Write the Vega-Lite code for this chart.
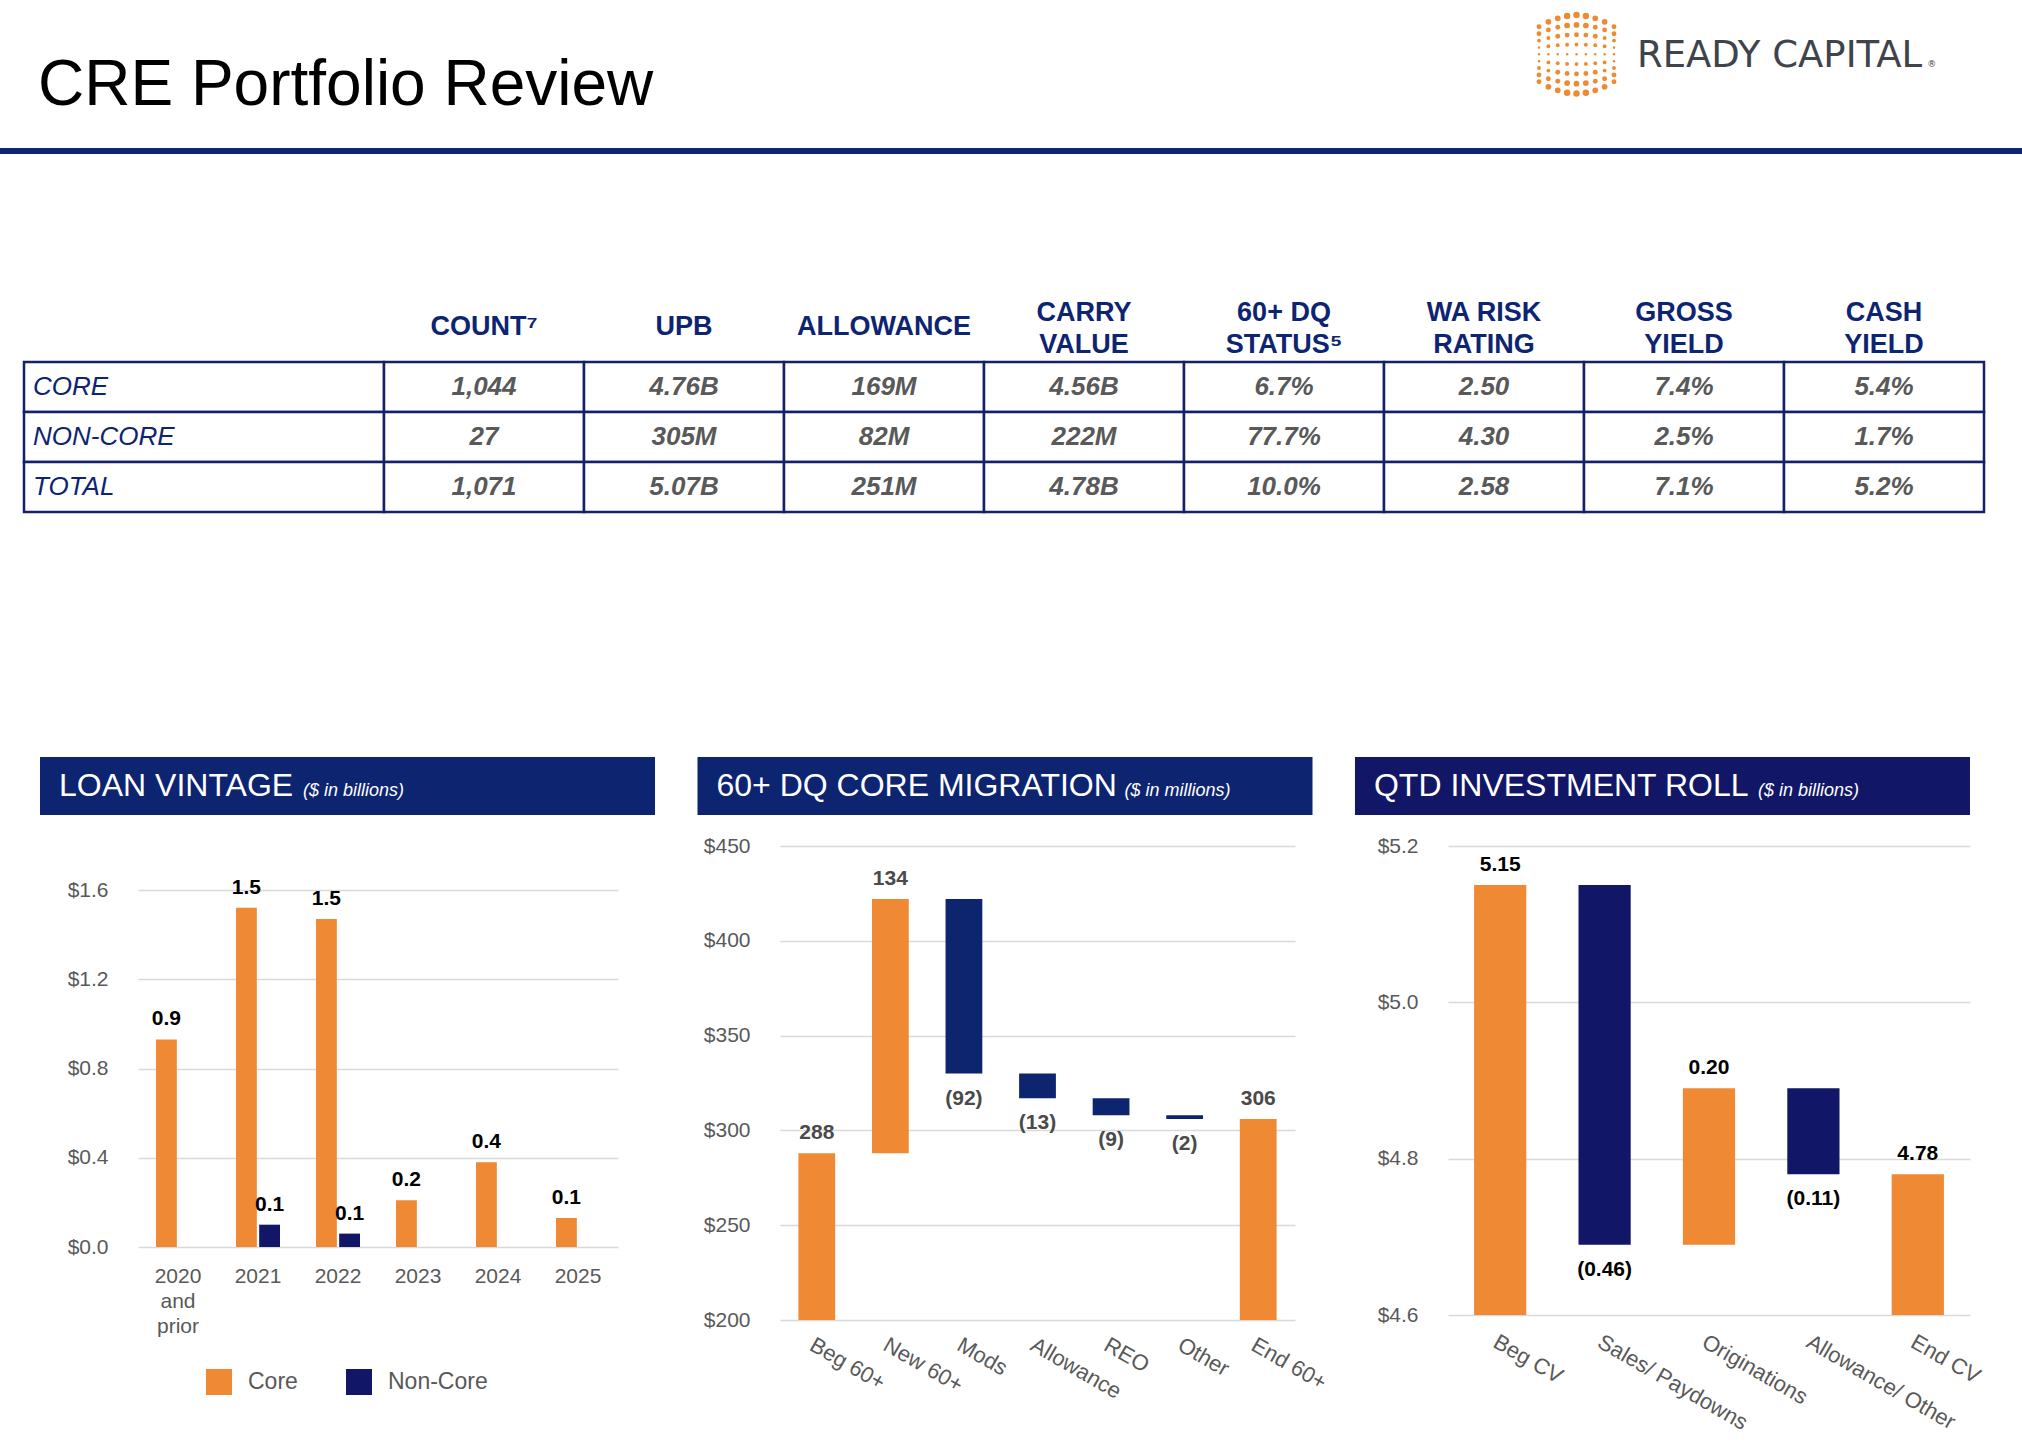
{
  "$schema": "https://vega.github.io/schema/vega-lite/v6.json",
  "width": 2022,
  "height": 1450,
  "autosize": {"type": "none"},
  "padding": 0,
  "background": "#ffffff",
  "config": {
    "font": "Liberation Sans",
    "view": {"stroke": null},
    "axis": {"labelFont": "Liberation Sans", "titleFont": "Liberation Sans"},
    "legend": {"labelFont": "Liberation Sans"}
  },
  "datasets": {
    "logo": [
      {"c":0,"y":21.8,"w":3},{"c":0,"y":28.7,"w":3},{"c":0,"y":35.6,"w":2},{"c":0,"y":42.4,"w":1},{"c":0,"y":49.3,"w":1},{"c":0,"y":56.2,"w":1},{"c":0,"y":63.0,"w":2},{"c":0,"y":69.9,"w":3},{"c":0,"y":76.8,"w":3},
      {"c":1,"y":16.8,"w":4},{"c":1,"y":24.9,"w":3},{"c":1,"y":33.0,"w":2},{"c":1,"y":41.2,"w":2},{"c":1,"y":49.3,"w":1},{"c":1,"y":57.4,"w":2},{"c":1,"y":65.6,"w":2},{"c":1,"y":73.7,"w":3},{"c":1,"y":81.8,"w":4},
      {"c":2,"y":13.3,"w":4},{"c":2,"y":22.3,"w":3},{"c":2,"y":31.3,"w":3},{"c":2,"y":40.3,"w":2},{"c":2,"y":49.3,"w":1},{"c":2,"y":58.3,"w":2},{"c":2,"y":67.3,"w":3},{"c":2,"y":76.3,"w":3},{"c":2,"y":85.3,"w":4},
      {"c":3,"y":10.9,"w":5},{"c":3,"y":20.5,"w":4},{"c":3,"y":30.1,"w":3},{"c":3,"y":39.7,"w":2},{"c":3,"y":49.3,"w":1},{"c":3,"y":58.9,"w":2},{"c":3,"y":68.5,"w":3},{"c":3,"y":78.1,"w":4},{"c":3,"y":87.7,"w":5},
      {"c":4,"y":10.1,"w":5},{"c":4,"y":19.9,"w":4},{"c":4,"y":29.7,"w":3},{"c":4,"y":39.5,"w":2},{"c":4,"y":49.3,"w":1},{"c":4,"y":59.1,"w":2},{"c":4,"y":68.9,"w":3},{"c":4,"y":78.7,"w":4},{"c":4,"y":88.5,"w":5},
      {"c":5,"y":10.9,"w":5},{"c":5,"y":20.5,"w":4},{"c":5,"y":30.1,"w":3},{"c":5,"y":39.7,"w":2},{"c":5,"y":49.3,"w":1},{"c":5,"y":58.9,"w":2},{"c":5,"y":68.5,"w":3},{"c":5,"y":78.1,"w":4},{"c":5,"y":87.7,"w":5},
      {"c":6,"y":13.3,"w":4},{"c":6,"y":22.3,"w":3},{"c":6,"y":31.3,"w":3},{"c":6,"y":40.3,"w":2},{"c":6,"y":49.3,"w":1},{"c":6,"y":58.3,"w":2},{"c":6,"y":67.3,"w":3},{"c":6,"y":76.3,"w":3},{"c":6,"y":85.3,"w":4},
      {"c":7,"y":16.8,"w":4},{"c":7,"y":24.9,"w":3},{"c":7,"y":33.0,"w":2},{"c":7,"y":41.2,"w":2},{"c":7,"y":49.3,"w":1},{"c":7,"y":57.4,"w":2},{"c":7,"y":65.6,"w":2},{"c":7,"y":73.7,"w":3},{"c":7,"y":81.8,"w":4},
      {"c":8,"y":21.8,"w":3},{"c":8,"y":28.7,"w":3},{"c":8,"y":35.6,"w":2},{"c":8,"y":42.4,"w":1},{"c":8,"y":49.3,"w":1},{"c":8,"y":56.2,"w":1},{"c":8,"y":63.0,"w":2},{"c":8,"y":69.9,"w":3},{"c":8,"y":76.8,"w":3}
    ],
    "rows": [{"row": "CORE"}, {"row": "NON-CORE"}, {"row": "TOTAL"}],
    "table": [
      {"row":"CORE","col":"COUNT⁷","val":"1,044"},
      {"row":"CORE","col":"UPB","val":"4.76B"},
      {"row":"CORE","col":"ALLOWANCE","val":"169M"},
      {"row":"CORE","col":"CARRY VALUE","val":"4.56B"},
      {"row":"CORE","col":"60+ DQ STATUS⁵","val":"6.7%"},
      {"row":"CORE","col":"WA RISK RATING","val":"2.50"},
      {"row":"CORE","col":"GROSS YIELD","val":"7.4%"},
      {"row":"CORE","col":"CASH YIELD","val":"5.4%"},
      {"row":"NON-CORE","col":"COUNT⁷","val":"27"},
      {"row":"NON-CORE","col":"UPB","val":"305M"},
      {"row":"NON-CORE","col":"ALLOWANCE","val":"82M"},
      {"row":"NON-CORE","col":"CARRY VALUE","val":"222M"},
      {"row":"NON-CORE","col":"60+ DQ STATUS⁵","val":"77.7%"},
      {"row":"NON-CORE","col":"WA RISK RATING","val":"4.30"},
      {"row":"NON-CORE","col":"GROSS YIELD","val":"2.5%"},
      {"row":"NON-CORE","col":"CASH YIELD","val":"1.7%"},
      {"row":"TOTAL","col":"COUNT⁷","val":"1,071"},
      {"row":"TOTAL","col":"UPB","val":"5.07B"},
      {"row":"TOTAL","col":"ALLOWANCE","val":"251M"},
      {"row":"TOTAL","col":"CARRY VALUE","val":"4.78B"},
      {"row":"TOTAL","col":"60+ DQ STATUS⁵","val":"10.0%"},
      {"row":"TOTAL","col":"WA RISK RATING","val":"2.58"},
      {"row":"TOTAL","col":"GROSS YIELD","val":"7.1%"},
      {"row":"TOTAL","col":"CASH YIELD","val":"5.2%"}
    ],
    "panels": [
      {"panel": "LOAN VINTAGE", "unit": "($ in billions)"},
      {"panel": "60+ DQ CORE MIGRATION", "unit": "($ in millions)"},
      {"panel": "QTD INVESTMENT ROLL", "unit": "($ in billions)"}
    ],
    "vintage": [
      {"vintage":"2020 and prior","type":"Core","amount":0.93},
      {"vintage":"2021","type":"Core","amount":1.52},
      {"vintage":"2022","type":"Core","amount":1.47},
      {"vintage":"2023","type":"Core","amount":0.21},
      {"vintage":"2024","type":"Core","amount":0.38},
      {"vintage":"2025","type":"Core","amount":0.13},
      {"vintage":"2021","type":"Non-Core","amount":0.10},
      {"vintage":"2022","type":"Non-Core","amount":0.06}
    ],
    "migration": [
      {"step":"Beg 60+","start":0,"end":288,"amount":288,"dir":"up"},
      {"step":"New 60+","start":288,"end":422,"amount":134,"dir":"up"},
      {"step":"Mods","start":422,"end":330,"amount":-92,"dir":"down"},
      {"step":"Allowance","start":330,"end":317,"amount":-13,"dir":"down"},
      {"step":"REO","start":317,"end":308,"amount":-9,"dir":"down"},
      {"step":"Other","start":308,"end":306,"amount":-2,"dir":"down"},
      {"step":"End 60+","start":0,"end":306,"amount":306,"dir":"up"}
    ],
    "roll": [
      {"step":"Beg CV","start":0,"end":5.15,"amount":5.15,"dir":"up"},
      {"step":"Sales/ Paydowns","start":5.15,"end":4.69,"amount":-0.46,"dir":"down"},
      {"step":"Originations","start":4.69,"end":4.89,"amount":0.20,"dir":"up"},
      {"step":"Allowance/ Other","start":4.89,"end":4.78,"amount":-0.11,"dir":"down"},
      {"step":"End CV","start":0,"end":4.78,"amount":4.78,"dir":"up"}
    ]
  },
  "resolve": {
    "scale": {"x": "independent", "y": "independent", "color": "independent", "size": "independent", "xOffset": "independent"},
    "axis": {"x": "independent", "y": "independent"},
    "legend": {"color": "independent", "size": "independent"}
  },
  "layer": [
    {
      "data": {"values": [{"t": "CRE Portfolio Review"}]},
      "mark": {"type": "text", "align": "left", "baseline": "alphabetic", "fontSize": 64, "color": "#000000"},
      "encoding": {"text": {"field": "t"}, "x": {"value": 38}, "y": {"value": 105}}
    },
    {
      "layer": [
        {
          "data": {"name": "logo"},
          "mark": {"type": "circle", "color": "#ef8a33", "opacity": 1},
          "encoding": {
            "x": {"field": "c", "type": "quantitative", "scale": {"domain": [0, 8], "range": [1539, 1614]}, "axis": null},
            "y": {"field": "y", "type": "quantitative", "scale": {"domain": [0, 100], "range": [5, 105]}, "axis": null},
            "size": {"field": "w", "type": "quantitative", "scale": {"domain": [1, 5], "range": [6, 42]}, "legend": null}
          }
        },
        {
          "data": {"values": [{"brand": "READY CAPITAL"}]},
          "mark": {"type": "text", "align": "left", "baseline": "alphabetic", "font": "DejaVu Sans", "fontSize": 37, "color": "#3f444b"},
          "encoding": {
            "text": {"field": "brand"},
            "x": {"datum": 10.45, "type": "quantitative"},
            "y": {"datum": 61.7, "type": "quantitative"}
          }
        },
        {
          "data": {"values": [{"sign": "®"}]},
          "mark": {"type": "text", "align": "left", "baseline": "alphabetic", "font": "DejaVu Sans", "fontSize": 9, "color": "#3f444b"},
          "encoding": {
            "text": {"field": "sign"},
            "x": {"datum": 41.4, "type": "quantitative"},
            "y": {"datum": 61.7, "type": "quantitative"}
          }
        }
      ]
    },
    {
      "data": {"values": [{}]},
      "mark": {"type": "rule", "color": "#0d2471", "strokeWidth": 6},
      "encoding": {"y": {"value": 151}}
    },
    {
      "data": {"name": "rows"},
      "encoding": {
        "y": {"field": "row", "type": "nominal", "sort": null, "scale": {"range": [362, 512], "paddingInner": 0, "paddingOuter": 0}, "axis": null}
      },
      "layer": [
        {
          "mark": {"type": "rect", "fill": "#ffffff", "stroke": "#14206b", "strokeWidth": 2.5},
          "encoding": {
            "x": {"datum": "row label", "type": "nominal", "scale": {"range": [24, 384], "paddingInner": 0, "paddingOuter": 0}, "axis": null}
          }
        },
        {
          "mark": {"type": "text", "align": "left", "baseline": "middle", "dx": 9, "fontSize": 26, "fontStyle": "italic", "color": "#0d2471"},
          "encoding": {
            "x": {"datum": "row label", "type": "nominal", "bandPosition": 0},
            "text": {"field": "row"}
          }
        }
      ]
    },
    {
      "data": {"name": "table"},
      "encoding": {
        "x": {
          "field": "col", "type": "nominal", "sort": null,
          "scale": {"range": [384, 1984], "paddingInner": 0, "paddingOuter": 0},
          "axis": {
            "orient": "top", "offset": -362, "title": null, "labelAngle": 0, "ticks": false, "domain": false, "grid": false,
            "labelFontSize": 27, "labelFontWeight": "bold", "labelColor": "#0d2471",
            "labelPadding": 36, "labelLineHeight": 32, "labelLimit": 0,
            "labelBaseline": {"condition": {"test": "indexof(['COUNT⁷', 'UPB', 'ALLOWANCE'], datum.value) >= 0", "value": "middle"}, "value": "bottom"},
            "labelExpr": "indexof(['COUNT⁷', 'UPB', 'ALLOWANCE'], datum.value) >= 0 ? datum.value : [slice(datum.value, 0, lastindexof(datum.value, ' ')), slice(datum.value, lastindexof(datum.value, ' ') + 1)]"
          }
        },
        "y": {"field": "row", "type": "nominal", "sort": null, "scale": {"range": [362, 512], "paddingInner": 0, "paddingOuter": 0}, "axis": null}
      },
      "layer": [
        {"mark": {"type": "rect", "fill": "#ffffff", "stroke": "#14206b", "strokeWidth": 2.5}},
        {
          "mark": {"type": "text", "baseline": "middle", "fontSize": 26, "fontWeight": "bold", "fontStyle": "italic", "color": "#595959"},
          "encoding": {"text": {"field": "val"}}
        }
      ]
    },
    {
      "data": {"name": "panels"},
      "encoding": {
        "x": {"field": "panel", "type": "nominal", "sort": null, "scale": {"range": [40, 1970], "paddingInner": 0.0646, "paddingOuter": 0}, "axis": null},
        "y": {"datum": "box", "type": "nominal", "scale": {"range": [757, 815], "paddingInner": 0, "paddingOuter": 0}, "axis": null}
      },
      "layer": [
        {
          "mark": {"type": "rect"},
          "encoding": {
            "color": {"field": "panel", "type": "nominal", "scale": {"domain": ["LOAN VINTAGE", "60+ DQ CORE MIGRATION", "QTD INVESTMENT ROLL"], "range": ["#0d2471", "#0d2471", "#121666"]}, "legend": null}
          }
        },
        {
          "mark": {"type": "text", "align": "left", "baseline": "alphabetic", "dx": 19, "dy": 10, "fontSize": 32, "color": "#ffffff"},
          "encoding": {"x": {"field": "panel", "type": "nominal", "bandPosition": 0}, "text": {"field": "panel"}}
        },
        {
          "transform": [{"filter": "datum.panel == 'LOAN VINTAGE'"}],
          "mark": {"type": "text", "align": "left", "baseline": "alphabetic", "dx": 263, "dy": 10, "fontSize": 18, "fontStyle": "italic", "color": "#ffffff"},
          "encoding": {"x": {"field": "panel", "type": "nominal", "bandPosition": 0}, "text": {"field": "unit"}}
        },
        {
          "transform": [{"filter": "datum.panel == '60+ DQ CORE MIGRATION'"}],
          "mark": {"type": "text", "align": "left", "baseline": "alphabetic", "dx": 427, "dy": 10, "fontSize": 18, "fontStyle": "italic", "color": "#ffffff"},
          "encoding": {"x": {"field": "panel", "type": "nominal", "bandPosition": 0}, "text": {"field": "unit"}}
        },
        {
          "transform": [{"filter": "datum.panel == 'QTD INVESTMENT ROLL'"}],
          "mark": {"type": "text", "align": "left", "baseline": "alphabetic", "dx": 403, "dy": 10, "fontSize": 18, "fontStyle": "italic", "color": "#ffffff"},
          "encoding": {"x": {"field": "panel", "type": "nominal", "bandPosition": 0}, "text": {"field": "unit"}}
        }
      ]
    },
    {
      "data": {"name": "vintage"},
      "encoding": {
        "x": {
          "field": "vintage", "type": "nominal", "sort": null,
          "scale": {"range": [138, 618], "paddingInner": 0.45, "paddingOuter": 0.225},
          "axis": {
            "orient": "bottom", "offset": -203, "title": null, "labelAngle": 0, "ticks": false, "domain": false, "grid": false,
            "labelFontSize": 21, "labelColor": "#595959", "labelPadding": 18,
            "labelBaseline": "top", "labelLineHeight": 25,
            "labelExpr": "datum.value == '2020 and prior' ? ['2020', 'and', 'prior'] : datum.label"
          }
        },
        "xOffset": {"field": "type", "type": "nominal", "sort": ["Core", "Non-Core"], "scale": {"paddingInner": 0.1, "paddingOuter": 0}},
        "y": {
          "field": "amount", "type": "quantitative",
          "scale": {"domain": [0, 1.6], "range": [1247, 890], "nice": false},
          "axis": {
            "orient": "left", "offset": -138, "title": null, "values": [0, 0.4, 0.8, 1.2, 1.6], "format": "$.1f",
            "ticks": false, "domain": false, "labelFontSize": 21, "labelColor": "#595959",
            "labelPadding": 30, "grid": true, "gridColor": "#d9d9d9", "gridWidth": 1.5
          }
        }
      },
      "layer": [
        {
          "mark": {"type": "bar"},
          "encoding": {
            "color": {
              "field": "type", "type": "nominal",
              "scale": {"domain": ["Core", "Non-Core"], "range": ["#ef8933", "#121666"]},
              "legend": {
                "title": null, "orient": "none", "legendX": 206, "legendY": 1369,
                "direction": "horizontal", "symbolType": "square", "symbolSize": 676,
                "symbolStrokeWidth": 0, "labelFontSize": 23, "labelColor": "#595959",
                "labelOffset": 16, "columnPadding": 48
              }
            }
          }
        },
        {
          "mark": {"type": "text", "baseline": "middle", "dy": -20, "fontSize": 21, "fontWeight": "bold", "color": "#000000"},
          "encoding": {"text": {"field": "amount", "type": "quantitative", "format": ".1f"}}
        }
      ]
    },
    {
      "data": {"name": "migration"},
      "transform": [
        {"calculate": "datum.amount < 0 ? '(' + format(-datum.amount, 'd') + ')' : format(datum.amount, 'd')", "as": "label"}
      ],
      "encoding": {
        "x": {
          "field": "step", "type": "nominal", "sort": null,
          "scale": {"range": [780, 1295], "paddingInner": 0.5, "paddingOuter": 0.25},
          "axis": {
            "orient": "bottom", "offset": -130, "title": null, "labelAngle": 30, "labelAlign": "left", "labelBaseline": "top",
            "ticks": false, "domain": false, "grid": false, "labelFontSize": 22, "labelColor": "#595959",
            "labelPadding": 14, "labelLimit": 0
          }
        },
        "y": {
          "field": "end", "type": "quantitative",
          "scale": {"domain": [200, 450], "range": [1320, 846], "nice": false, "zero": false, "clamp": true},
          "axis": {
            "orient": "left", "offset": -780, "title": null, "values": [200, 250, 300, 350, 400, 450], "format": "$d",
            "ticks": false, "domain": false, "labelFontSize": 21, "labelColor": "#595959",
            "labelPadding": 30, "grid": true, "gridColor": "#d9d9d9", "gridWidth": 1.5
          }
        }
      },
      "layer": [
        {
          "mark": {"type": "bar"},
          "encoding": {
            "y": {"field": "start", "type": "quantitative"},
            "y2": {"field": "end"},
            "color": {"field": "dir", "type": "nominal", "scale": {"domain": ["up", "down"], "range": ["#ef8933", "#0d256e"]}, "legend": null}
          }
        },
        {
          "transform": [{"filter": "datum.amount > 0"}],
          "mark": {"type": "text", "baseline": "middle", "dy": -20, "fontSize": 21, "fontWeight": "bold", "color": "#4a4a4a"},
          "encoding": {"text": {"field": "label"}}
        },
        {
          "transform": [{"filter": "datum.amount < 0"}],
          "mark": {"type": "text", "baseline": "middle", "dy": 25, "fontSize": 21, "fontWeight": "bold", "color": "#4a4a4a"},
          "encoding": {"text": {"field": "label"}}
        }
      ]
    },
    {
      "data": {"name": "roll"},
      "transform": [
        {"calculate": "datum.amount < 0 ? '(' + format(-datum.amount, '.2f') + ')' : format(datum.amount, '.2f')", "as": "label"}
      ],
      "encoding": {
        "x": {
          "field": "step", "type": "nominal", "sort": null,
          "scale": {"range": [1448, 1970], "paddingInner": 0.5, "paddingOuter": 0.25},
          "axis": {
            "orient": "bottom", "offset": -135, "title": null, "labelAngle": 30, "labelAlign": "left", "labelBaseline": "top",
            "ticks": false, "domain": false, "grid": false, "labelFontSize": 22, "labelColor": "#595959",
            "labelPadding": 16, "labelLimit": 0
          }
        },
        "y": {
          "field": "end", "type": "quantitative",
          "scale": {"domain": [4.6, 5.2], "range": [1315, 846], "nice": false, "zero": false, "clamp": true},
          "axis": {
            "orient": "left", "offset": -1448, "title": null, "values": [4.6, 4.8, 5.0, 5.2], "format": "$.1f",
            "ticks": false, "domain": false, "labelFontSize": 21, "labelColor": "#595959",
            "labelPadding": 30, "grid": true, "gridColor": "#d9d9d9", "gridWidth": 1.5
          }
        }
      },
      "layer": [
        {
          "mark": {"type": "bar"},
          "encoding": {
            "y": {"field": "start", "type": "quantitative"},
            "y2": {"field": "end"},
            "color": {"field": "dir", "type": "nominal", "scale": {"domain": ["up", "down"], "range": ["#ef8933", "#121666"]}, "legend": null}
          }
        },
        {
          "transform": [{"filter": "datum.amount > 0"}],
          "mark": {"type": "text", "baseline": "middle", "dy": -20, "fontSize": 21, "fontWeight": "bold", "color": "#000000"},
          "encoding": {"text": {"field": "label"}}
        },
        {
          "transform": [{"filter": "datum.amount < 0"}],
          "mark": {"type": "text", "baseline": "middle", "dy": 25, "fontSize": 21, "fontWeight": "bold", "color": "#000000"},
          "encoding": {"text": {"field": "label"}}
        }
      ]
    }
  ]
}
